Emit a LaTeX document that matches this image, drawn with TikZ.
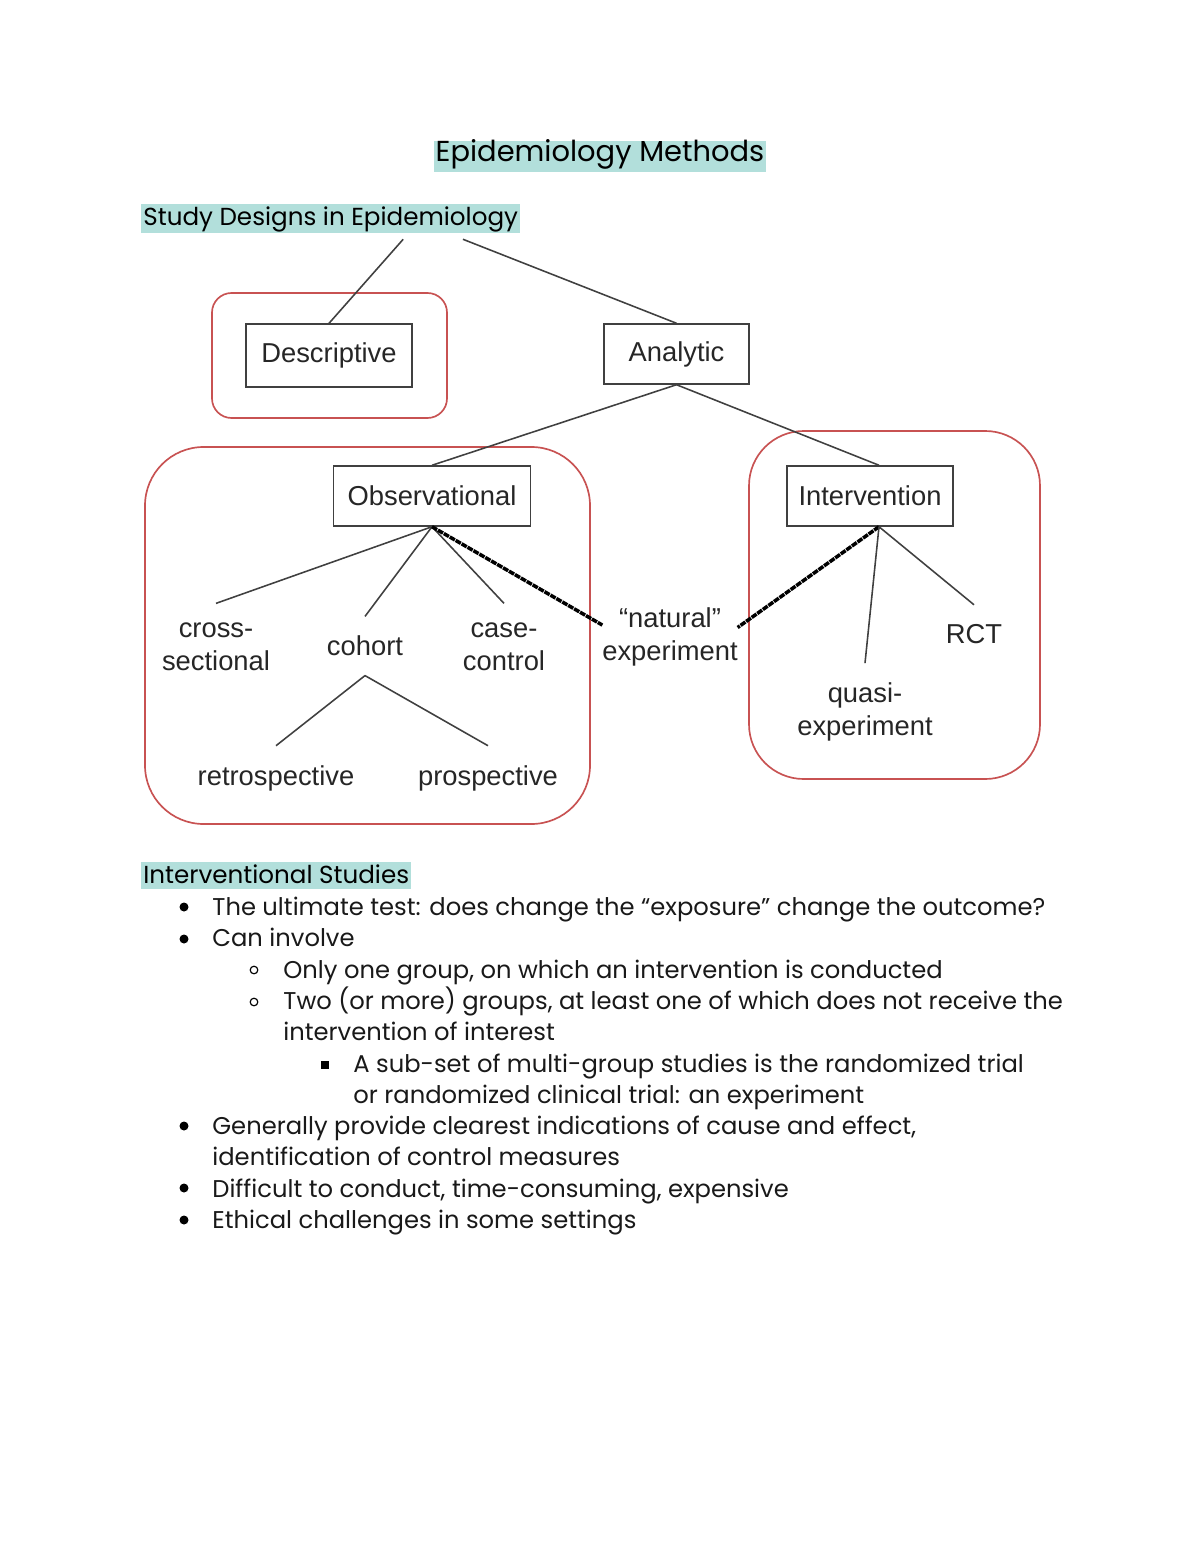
\documentclass[tikz,border=0pt]{standalone}
\usepackage{fontspec}
\setmainfont{Poppins}
\newfontfamily\diagfont{Liberation Sans}
\usepackage{tikz}
\usetikzlibrary{positioning}

\definecolor{hlteal}{RGB}{178,223,219}
\definecolor{framered}{RGB}{200,82,82}
\definecolor{linegray}{RGB}{64,64,64}

\tikzset{
  diagbox/.style={draw=linegray, line width=0.85pt, inner sep=0pt,
    font=\diagfont\fontsize{14}{17}\selectfont, text=black!85, align=center},
  diaglabel/.style={inner sep=0pt, outer sep=10pt,
    font=\diagfont\fontsize{14}{17}\selectfont, text=black!85, align=center},
  groupframe/.style={draw=framered, line width=0.85pt},
  branch/.style={draw=linegray, line width=0.8pt},
  naturalbranch/.style={draw=black, line width=1.8pt, dash pattern=on 3pt off 0.5pt},
  bodyline/.style={anchor=base west, inner sep=0pt,
    font=\fontsize{12.4}{14}\selectfont, text=black!90},
}

\begin{document}
\begin{tikzpicture}[x=0.017992cm,y=-0.017992cm]
\useasboundingbox[fill=white] (0,0) rectangle (1200,1553);

% headings
\node[fill=hlteal,
    anchor=base,
    inner xsep=1pt,
    inner ysep=0pt,
    text height=10.7pt,
    text depth=5.1pt,
    font=\fontsize{14.8}{18}\selectfont
] (title) at (600,162) {Epidemiology Methods};

\node[fill=hlteal,
    anchor=base west,
    inner xsep=1pt,
    inner ysep=0pt,
    text height=11.2pt,
    text depth=3.6pt,
    font=\fontsize{12.6}{14}\selectfont
] (studyDesigns) at (141,226) {Study Designs in Epidemiology};

% red group frames
\draw[groupframe, rounded corners=10pt] (212,293) rectangle (447,418);
\draw[groupframe, rounded corners=30pt] (145,447) rectangle (590,824);
\draw[groupframe, rounded corners=28pt] (749,431) rectangle (1040,779);

% boxes
\node[diagbox,
    minimum width=84.7pt,
    minimum height=32.1pt
] (descriptive) at (329,355.5) {Descriptive};

\node[diagbox,
    minimum width=74pt,
    minimum height=30.6pt
] (analytic) at (676.5,354) {Analytic};

\node[diagbox,
    minimum width=101pt,
    minimum height=30.6pt
] (observational) at (432,496) {Observational};

\node[diagbox,
    minimum width=84.7pt,
    minimum height=30.6pt
] (intervention) at (870,496) {Intervention};

% labels
\node[diaglabel] (crossSectional) at (216,647) {cross-\\sectional};
\node[diaglabel] (cohort) at (365,646) {cohort};
\node[diaglabel] (caseControl) at (504,647) {case-\\control};
\node[diaglabel] (retrospective) at (276,778) {retrospective};
\node[diaglabel] (prospective) at (488,778) {prospective};
\node[diaglabel, outer sep=0pt] (natural) at (670,637) {“natural”\\experiment};
\node[diaglabel] (rct) at (974,634) {RCT};
\node[diaglabel] (quasi) at (865,712) {quasi-\\experiment};

% connectors
\draw[branch] ([xshift=134.2pt,yshift=-3pt]studyDesigns.south west) -- (descriptive.north);
\draw[branch] ([xshift=164.8pt,yshift=-3pt]studyDesigns.south west) -- (analytic.north);

\draw[branch] (analytic.south) -- (observational.north);
\draw[branch] (analytic.south) -- ([xshift=4.6pt]intervention.north);

\draw[branch] (observational.south) -- (crossSectional.north);
\draw[branch] (observational.south) -- (cohort.north);
\draw[branch] (observational.south) -- (caseControl.north);
\draw[naturalbranch] (observational.south) -- (natural.170);

\draw[branch] (cohort.south) -- (retrospective.north);
\draw[branch] (cohort.south) -- (prospective.north);

\draw[naturalbranch] ([xshift=4.6pt]intervention.south) -- (natural.8);
\draw[branch] ([xshift=4.6pt]intervention.south) -- (quasi.north);
\draw[branch] ([xshift=4.6pt]intervention.south) -- (rct.north);

% interventional studies
\node[fill=hlteal,
    anchor=base west,
    inner xsep=1pt,
    inner ysep=0pt,
    text height=10.7pt,
    text depth=3.1pt,
    font=\fontsize{12.6}{14}\selectfont
] (interventional) at (141,883) {Interventional Studies};

\fill (184,907) circle (4.5);
\fill (184,939) circle (4.5);
\draw[line width=0.6pt] (254,970) circle (3.8);
\draw[line width=0.6pt] (254,1002) circle (3.8);
\fill (321,1061) rectangle (329,1069);
\fill (184,1126) circle (4.5);
\fill (184,1188) circle (4.5);
\fill (184,1220) circle (4.5);

\node[bodyline] (ultimateTest) at (212,915) {The ultimate test: does change the ``exposure'' change the outcome?};
\node[bodyline] (canInvolve) at (212,946) {Can involve};
\node[bodyline] (oneGroup) at (283,978) {Only one group, on which an intervention is conducted};
\node[bodyline] (twoGroups) at (283,1009) {Two (or more) groups, at least one of which does not receive the};
\node[bodyline] (twoGroupsCont) at (283,1040) {intervention of interest};
\node[bodyline] (subSet) at (353,1072) {A sub-set of multi-group studies is the randomized trial};
\node[bodyline] (subSetCont) at (353,1103) {or randomized clinical trial: an experiment};
\node[bodyline] (clearest) at (212,1134) {Generally provide clearest indications of cause and effect,};
\node[bodyline] (clearestCont) at (212,1165) {identification of control measures};
\node[bodyline] (difficult) at (212,1197) {Difficult to conduct, time-consuming, expensive};
\node[bodyline] (ethical) at (212,1228) {Ethical challenges in some settings};

\end{tikzpicture}
\end{document}
